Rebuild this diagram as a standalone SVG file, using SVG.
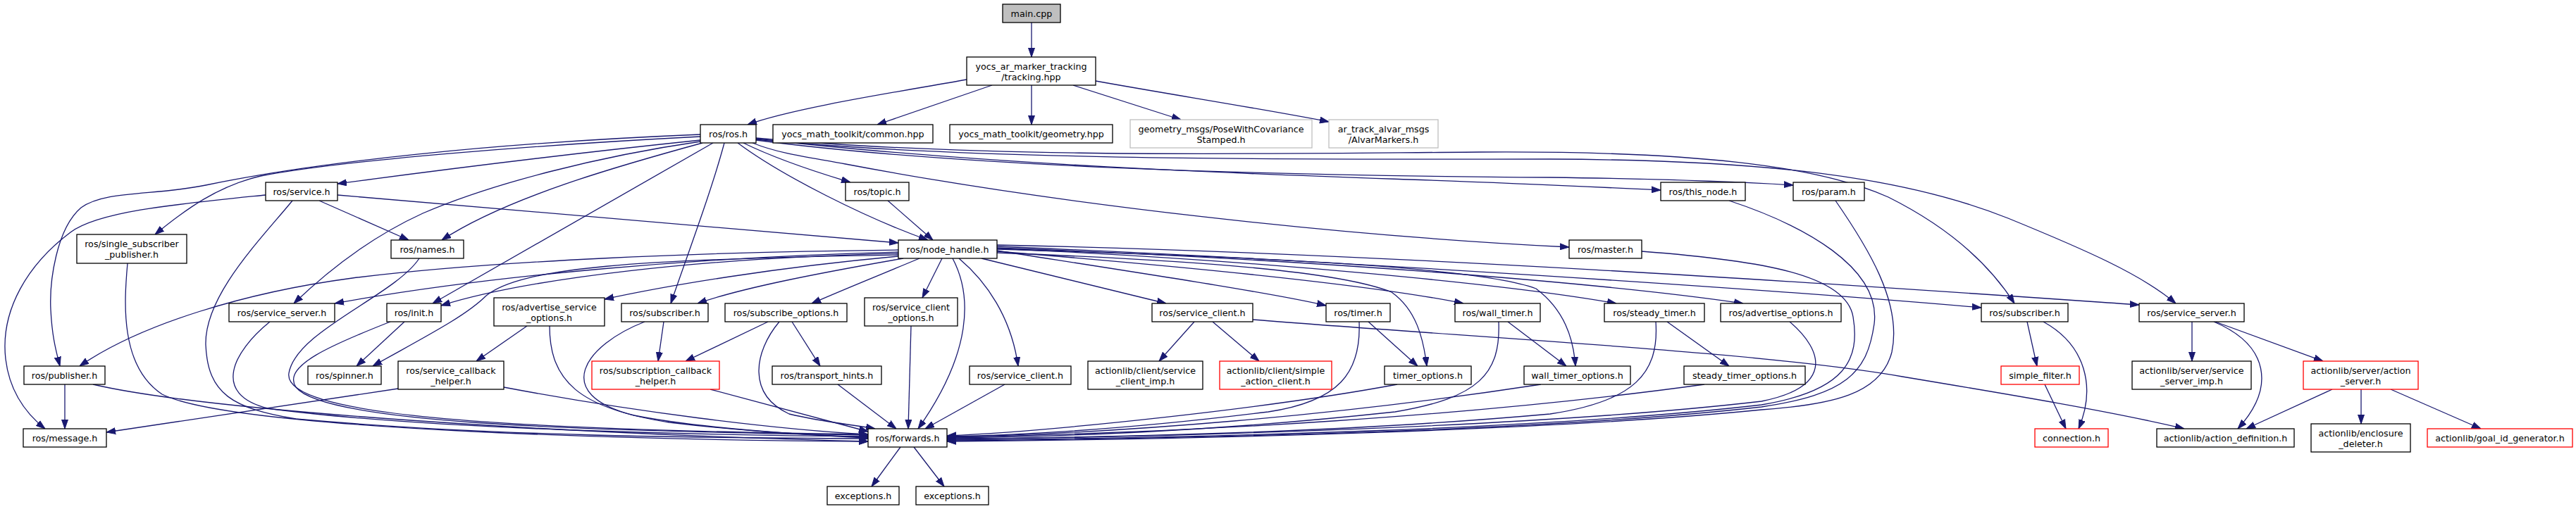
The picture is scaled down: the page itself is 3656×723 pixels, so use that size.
<svg xmlns="http://www.w3.org/2000/svg" width="3656" height="723" viewBox="0 0 3656 723">
<style>
.n rect{fill:#fff;stroke:#000;stroke-width:1.3}
.n.red rect{stroke:#f00}
.n.grey rect{stroke:#bfbfbf}
.n.main rect{fill:#bfbfbf}
.n text{font-family:"DejaVu Sans","Liberation Sans",sans-serif;font-size:12.7px;text-anchor:middle;fill:#000}
#edges path{fill:none;stroke:#191970;stroke-width:1.3;marker-end:url(#ah)}
</style>
<defs>
<marker id="ah" markerWidth="13" markerHeight="10" refX="13" refY="5" orient="auto" markerUnits="userSpaceOnUse">
<path d="M0,0.5 L13,5 L0,9.5 z" fill="#191970" stroke="#191970" stroke-width="1"/>
</marker>
</defs>
<rect width="3656" height="723" fill="#fff"/>
<g id="edges">
<path d="M1464,32 L1464,81"/>
<path d="M1372,113 C1290,128 1130,152 1061,177"/>
<path d="M1408,121 L1245,177"/>
<path d="M1464,121 L1464,177"/>
<path d="M1523,121 L1676,170"/>
<path d="M1555,115 C1660,134 1800,156 1886,173"/>
<path d="M994,199 C850,214 650,238 479,261"/>
<path d="M994,191 C700,203 450,230 292,263 C220,278 150,270 115,295 C80,325 70,400 72,440 C74,480 80,500 85,520"/>
<path d="M994,194 C800,204 500,225 370,250 C310,264 265,296 220,333"/>
<path d="M994,201 C850,222 700,260 600,303 C530,335 470,380 417,431"/>
<path d="M997,203 C880,235 720,280 627,341"/>
<path d="M1012,203 L614,431"/>
<path d="M1028,203 C1010,270 980,350 952,431"/>
<path d="M1055,203 C1100,225 1160,245 1207,259"/>
<path d="M1047,203 C1110,250 1230,310 1317,341"/>
<path d="M1068,203 C1110,220 1160,225 1200,233 C1500,290 1900,335 2227,351"/>
<path d="M1073,197 C1400,235 1800,248 2000,255 C2150,260 2250,265 2357,270"/>
<path d="M1073,199 C1400,242 1900,250 2200,252 C2350,254 2450,257 2545,263"/>
<path d="M1073,196 C1400,226 1800,218 2100,216 C2400,214 2580,235 2680,280 C2760,320 2820,370 2859,431"/>
<path d="M1073,198 C1400,230 1900,226 2200,226 C2500,227 2700,250 2850,310 C2960,355 3040,390 3088,431"/>
<path d="M377,277 C250,290 140,300 100,330 C40,375 0,440 8,510 C14,560 40,590 64,609"/>
<path d="M415,285 C370,340 290,420 292,490 C295,560 330,580 420,595 C700,620 1000,622 1232,623"/>
<path d="M453,285 L580,341"/>
<path d="M479,277 L1275,345"/>
<path d="M1260,285 L1324,341"/>
<path d="M181,374 C176,430 170,520 230,560 C330,610 900,625 1232,627"/>
<path d="M595,367 C560,420 420,470 410,530 C400,590 700,610 1232,617"/>
<path d="M92,546 L92,609"/>
<path d="M132,546 C300,585 800,616 1232,627"/>
<path d="M383,457 C330,500 300,560 380,580 C600,610 1000,618 1232,620"/>
<path d="M574,457 L506,520"/>
<path d="M554,457 C470,490 400,520 420,550 C460,600 800,612 1232,618"/>
<path d="M1275,362 C900,368 740,380 690,420 C660,450 600,480 529,520"/>
<path d="M1275,355 C1000,358 700,370 500,395 C350,415 200,460 113,520"/>
<path d="M1275,358 C1000,365 700,390 475,431"/>
<path d="M1275,360 C1000,366 750,395 626,434"/>
<path d="M1275,364 C1100,380 950,405 858,425"/>
<path d="M1282,367 C1150,390 1050,410 990,431"/>
<path d="M1305,367 C1250,390 1200,410 1152,431"/>
<path d="M1337,367 L1309,423"/>
<path d="M1352,367 C1380,420 1380,500 1303,609"/>
<path d="M1361,367 C1400,400 1435,450 1445,520"/>
<path d="M1393,367 L1655,431"/>
<path d="M1415,356 C1600,385 1800,415 1882,434"/>
<path d="M1415,359 C1700,370 1900,385 1975,415 C2010,440 2020,480 2025,520"/>
<path d="M1415,357 C1700,380 1950,405 2077,431"/>
<path d="M1415,354 C1800,365 2100,380 2180,410 C2220,440 2233,480 2236,520"/>
<path d="M1415,353 C1800,370 2150,405 2294,431"/>
<path d="M1415,352 C1900,370 2300,405 2474,431"/>
<path d="M1415,350 C1900,370 2500,410 2812,437"/>
<path d="M1415,348 C2000,360 2700,410 3036,433"/>
<path d="M748,463 L676,513"/>
<path d="M780,463 C780,540 820,580 950,600 C1050,612 1150,618 1232,621"/>
<path d="M565,552 L151,614"/>
<path d="M715,550 C900,585 1100,610 1232,617"/>
<path d="M942,457 L934,513"/>
<path d="M915,457 C830,490 780,560 900,590 C1000,610 1150,618 1232,622"/>
<path d="M1090,457 L973,513"/>
<path d="M1124,457 L1164,520"/>
<path d="M1106,457 C1070,500 1060,560 1120,588 C1170,600 1210,603 1242,609"/>
<path d="M1008,553 L1232,613"/>
<path d="M1189,546 L1272,609"/>
<path d="M1293,463 L1289,609"/>
<path d="M1426,546 L1313,609"/>
<path d="M1695,457 L1645,513"/>
<path d="M1721,457 L1787,513"/>
<path d="M1778,454 C2100,480 2500,500 2700,535 C2850,560 3000,585 3100,609"/>
<path d="M1942,457 L2012,520"/>
<path d="M1929,457 C1932,530 1900,570 1800,585 C1600,610 1450,618 1344,620"/>
<path d="M1983,546 C1800,580 1500,612 1344,619"/>
<path d="M2140,457 L2223,520"/>
<path d="M2127,457 C2130,530 2100,565 1980,585 C1700,615 1500,620 1344,622"/>
<path d="M2187,546 C1900,590 1600,615 1344,621"/>
<path d="M2366,457 L2454,520"/>
<path d="M2350,457 C2355,530 2320,570 2200,588 C1900,615 1550,622 1344,623"/>
<path d="M2419,546 C2100,590 1700,615 1344,621"/>
<path d="M2540,457 C2590,500 2600,550 2500,570 C2200,605 1700,620 1344,624"/>
<path d="M2330,357 C2500,370 2620,390 2630,450 C2640,510 2620,555 2500,575 C2200,610 1700,622 1344,625"/>
<path d="M2454,285 C2560,320 2670,380 2660,460 C2650,530 2620,560 2500,578 C2200,612 1700,623 1344,626"/>
<path d="M2605,285 C2650,350 2700,430 2685,500 C2670,560 2600,575 2500,582 C2200,612 1700,624 1344,627"/>
<path d="M2877,457 L2891,520"/>
<path d="M2900,457 C2960,490 2975,550 2950,609"/>
<path d="M2902,546 L2932,609"/>
<path d="M3111,457 L3111,513"/>
<path d="M3142,457 C3220,490 3230,550 3176,609"/>
<path d="M3144,457 L3297,513"/>
<path d="M3310,553 L3188,609"/>
<path d="M3351,553 L3351,602"/>
<path d="M3393,553 L3521,609"/>
<path d="M1278,635 L1237,691"/>
<path d="M1297,635 L1340,691"/>
</g>
<g id="node-main" class="n main"><rect x="1423" y="6" width="82" height="26"/><text x="1464" y="24">main.cpp</text></g>
<g id="node-tracking" class="n"><rect x="1372" y="81" width="183" height="40"/><text x="1463.5" y="99">yocs_ar_marker_tracking</text><text x="1463.5" y="113.5">/tracking.hpp</text></g>
<g id="node-ros" class="n"><rect x="994" y="177" width="79" height="26"/><text x="1033.5" y="194.6">ros/ros.h</text></g>
<g id="node-common" class="n"><rect x="1097" y="177" width="227" height="26"/><text x="1210.5" y="194.6">yocs_math_toolkit/common.hpp</text></g>
<g id="node-geometry" class="n"><rect x="1348" y="177" width="231" height="26"/><text x="1463.5" y="194.6">yocs_math_toolkit/geometry.hpp</text></g>
<g id="node-posecov" class="n grey"><rect x="1604" y="170" width="258" height="40"/><text x="1733" y="188">geometry_msgs/PoseWithCovariance</text><text x="1733" y="202.5">Stamped.h</text></g>
<g id="node-alvar" class="n grey"><rect x="1886" y="170" width="155" height="40"/><text x="1963.5" y="188">ar_track_alvar_msgs</text><text x="1963.5" y="202.5">/AlvarMarkers.h</text></g>
<g id="node-service" class="n"><rect x="377" y="259" width="102" height="26"/><text x="428" y="276.6">ros/service.h</text></g>
<g id="node-topic" class="n"><rect x="1200" y="259" width="90" height="26"/><text x="1245" y="276.6">ros/topic.h</text></g>
<g id="node-this_node" class="n"><rect x="2357" y="259" width="120" height="26"/><text x="2417" y="276.6">ros/this_node.h</text></g>
<g id="node-param" class="n"><rect x="2545" y="259" width="101" height="26"/><text x="2595.5" y="276.6">ros/param.h</text></g>
<g id="node-single_sub" class="n"><rect x="109" y="333" width="156" height="41"/><text x="187" y="351">ros/single_subscriber</text><text x="187" y="365.5">_publisher.h</text></g>
<g id="node-names" class="n"><rect x="555" y="341" width="103" height="26"/><text x="606.5" y="358.6">ros/names.h</text></g>
<g id="node-node_handle" class="n"><rect x="1275" y="341" width="140" height="26"/><text x="1345" y="358.6">ros/node_handle.h</text></g>
<g id="node-master" class="n"><rect x="2227" y="341" width="103" height="26"/><text x="2278.5" y="358.6">ros/master.h</text></g>
<g id="node-service_server_l" class="n"><rect x="325" y="431" width="150" height="26"/><text x="400" y="448.6">ros/service_server.h</text></g>
<g id="node-init" class="n"><rect x="549" y="431" width="77" height="26"/><text x="587.5" y="448.6">ros/init.h</text></g>
<g id="node-adv_srv_opts" class="n"><rect x="701" y="423" width="157" height="40"/><text x="779.5" y="441">ros/advertise_service</text><text x="779.5" y="455.5">_options.h</text></g>
<g id="node-subscriber_l" class="n"><rect x="882" y="431" width="123" height="26"/><text x="943.5" y="448.6">ros/subscriber.h</text></g>
<g id="node-subscribe_opts" class="n"><rect x="1029" y="431" width="173" height="26"/><text x="1115.5" y="448.6">ros/subscribe_options.h</text></g>
<g id="node-srv_client_opts" class="n"><rect x="1227" y="423" width="132" height="40"/><text x="1293" y="441">ros/service_client</text><text x="1293" y="455.5">_options.h</text></g>
<g id="node-service_client_u" class="n"><rect x="1635" y="431" width="143" height="26"/><text x="1706.5" y="448.6">ros/service_client.h</text></g>
<g id="node-timer" class="n"><rect x="1882" y="431" width="91" height="26"/><text x="1927.5" y="448.6">ros/timer.h</text></g>
<g id="node-wall_timer" class="n"><rect x="2065" y="431" width="121" height="26"/><text x="2125.5" y="448.6">ros/wall_timer.h</text></g>
<g id="node-steady_timer" class="n"><rect x="2277" y="431" width="142" height="26"/><text x="2348" y="448.6">ros/steady_timer.h</text></g>
<g id="node-adv_opts" class="n"><rect x="2442" y="431" width="171" height="26"/><text x="2527.5" y="448.6">ros/advertise_options.h</text></g>
<g id="node-subscriber_r" class="n"><rect x="2812" y="431" width="123" height="26"/><text x="2873.5" y="448.6">ros/subscriber.h</text></g>
<g id="node-service_server_r" class="n"><rect x="3036" y="431" width="149" height="26"/><text x="3110.5" y="448.6">ros/service_server.h</text></g>
<g id="node-publisher" class="n"><rect x="34" y="520" width="115" height="26"/><text x="91.5" y="537.6">ros/publisher.h</text></g>
<g id="node-spinner" class="n"><rect x="437" y="520" width="104" height="26"/><text x="489" y="537.6">ros/spinner.h</text></g>
<g id="node-srv_cb_helper" class="n"><rect x="565" y="513" width="150" height="40"/><text x="640" y="531">ros/service_callback</text><text x="640" y="545.5">_helper.h</text></g>
<g id="node-sub_cb_helper" class="n red"><rect x="840" y="513" width="181" height="40"/><text x="930.5" y="531">ros/subscription_callback</text><text x="930.5" y="545.5">_helper.h</text></g>
<g id="node-transport_hints" class="n"><rect x="1096" y="520" width="155" height="26"/><text x="1173.5" y="537.6">ros/transport_hints.h</text></g>
<g id="node-service_client_l" class="n"><rect x="1376" y="520" width="144" height="26"/><text x="1448" y="537.6">ros/service_client.h</text></g>
<g id="node-srv_client_imp" class="n"><rect x="1544" y="513" width="163" height="40"/><text x="1625.5" y="531">actionlib/client/service</text><text x="1625.5" y="545.5">_client_imp.h</text></g>
<g id="node-simple_action_client" class="n red"><rect x="1731" y="513" width="159" height="40"/><text x="1810.5" y="531">actionlib/client/simple</text><text x="1810.5" y="545.5">_action_client.h</text></g>
<g id="node-timer_opts" class="n"><rect x="1965" y="520" width="123" height="26"/><text x="2026.5" y="537.6">timer_options.h</text></g>
<g id="node-wall_timer_opts" class="n"><rect x="2163" y="520" width="151" height="26"/><text x="2238.5" y="537.6">wall_timer_options.h</text></g>
<g id="node-steady_timer_opts" class="n"><rect x="2390" y="520" width="172" height="26"/><text x="2476" y="537.6">steady_timer_options.h</text></g>
<g id="node-simple_filter" class="n red"><rect x="2840" y="520" width="111" height="26"/><text x="2895.5" y="537.6">simple_filter.h</text></g>
<g id="node-srv_server_imp" class="n"><rect x="3026" y="513" width="169" height="40"/><text x="3110.5" y="531">actionlib/server/service</text><text x="3110.5" y="545.5">_server_imp.h</text></g>
<g id="node-action_server" class="n red"><rect x="3269" y="513" width="163" height="40"/><text x="3350.5" y="531">actionlib/server/action</text><text x="3350.5" y="545.5">_server.h</text></g>
<g id="node-message" class="n"><rect x="33" y="609" width="118" height="26"/><text x="92" y="626.6">ros/message.h</text></g>
<g id="node-forwards" class="n"><rect x="1232" y="609" width="112" height="26"/><text x="1288" y="626.6">ros/forwards.h</text></g>
<g id="node-connection" class="n red"><rect x="2888" y="609" width="104" height="26"/><text x="2940" y="626.6">connection.h</text></g>
<g id="node-action_definition" class="n"><rect x="3061" y="609" width="195" height="26"/><text x="3158.5" y="626.6">actionlib/action_definition.h</text></g>
<g id="node-enclosure_deleter" class="n"><rect x="3280" y="602" width="141" height="40"/><text x="3350.5" y="620">actionlib/enclosure</text><text x="3350.5" y="634.5">_deleter.h</text></g>
<g id="node-goal_id_gen" class="n red"><rect x="3445" y="609" width="206" height="26"/><text x="3548" y="626.6">actionlib/goal_id_generator.h</text></g>
<g id="node-exceptions_l" class="n"><rect x="1174" y="691" width="102" height="26"/><text x="1225" y="708.6">exceptions.h</text></g>
<g id="node-exceptions_r" class="n"><rect x="1300" y="691" width="103" height="26"/><text x="1351.5" y="708.6">exceptions.h</text></g>
</svg>
